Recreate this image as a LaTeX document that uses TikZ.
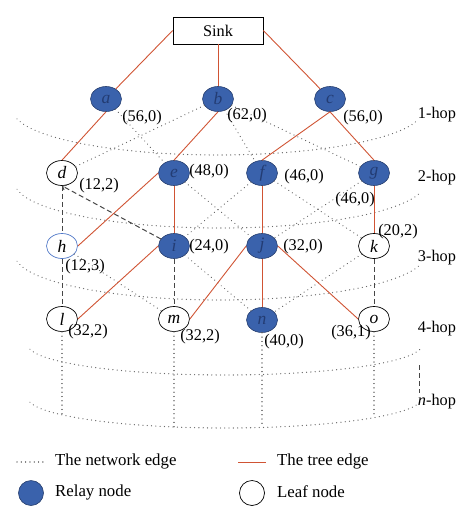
\documentclass[tikz,border=0pt]{standalone}
\usepackage{fontspec}
\setmainfont{Liberation Serif}
\usetikzlibrary{arrows.meta,shapes.geometric}
\definecolor{treecol}{RGB}{208,84,52}
\definecolor{relayfill}{RGB}{58,98,172}
\definecolor{relaydraw}{RGB}{38,62,110}
\definecolor{relaytext}{RGB}{35,60,115}
\definecolor{netcol}{RGB}{105,105,105}
\definecolor{dashcol}{RGB}{70,70,70}
\definecolor{hblue}{RGB}{80,120,200}
\begin{document}
\begin{tikzpicture}[x=1pt,y=-1pt,
  every node/.style={font=\fontsize{16.3}{19}\selectfont},
  relay/.style={ellipse, draw=relaydraw, fill=relayfill, minimum width=31pt, minimum height=25pt, inner sep=0pt, text=relaytext, font=\fontsize{17.5}{19}\selectfont\itshape, line width=0.6pt},
  leaf/.style={ellipse, draw=black, fill=white, minimum width=31pt, minimum height=25pt, inner sep=0pt, font=\fontsize{17.5}{19}\selectfont\itshape, line width=0.7pt},
  sinkbox/.style={rectangle, draw=black, fill=white, minimum width=90pt, minimum height=27pt, inner sep=0pt, line width=0.7pt},
  tree/.style={draw=treecol, line width=0.9pt},
  net/.style={draw=netcol, line width=1.3pt, dash pattern=on 0.01pt off 4.3pt, line cap=round},
  dashe/.style={draw=dashcol, line width=1pt, dash pattern=on 5pt off 3pt},
  lbl/.style={inner sep=0pt},
]
\useasboundingbox (0,0) rectangle (474,522);

% hop arcs
\draw[net] plot[domain=17:418,samples=80,smooth] (\x,{110+45*sqrt(max(0,1-((\x-218)/205)^2))});
\draw[net] plot[domain=17:420,samples=80,smooth] (\x,{183+45*sqrt(max(0,1-((\x-220)/205)^2))});
\draw[net] plot[domain=17:420,samples=80,smooth] (\x,{255+45*sqrt(max(0,1-((\x-220)/205)^2))});
\draw[net] plot[domain=30:420,samples=80,smooth] (\x,{345+30*sqrt(max(0,1-((\x-225)/197)^2))});
\draw[net] plot[domain=30:420,samples=80,smooth] (\x,{398+30*sqrt(max(0,1-((\x-225)/197)^2))});

% nodes
\node[sinkbox] (sink) at (218,30.5) {Sink};
\node[relay] (a) at (106,99) {a};
\node[relay] (b) at (218,99) {b};
\node[relay] (c) at (330,99) {c};
\node[leaf]  (d) at (62,173) {d};
\node[relay] (e) at (174,173) {e};
\node[relay] (f) at (262,173) {f};
\node[relay] (g) at (374,173) {g};
\node[leaf, draw=hblue] (h) at (62,246) {h};
\node[relay] (i) at (174,246) {i};
\node[relay] (j) at (262,246) {j};
\node[leaf]  (k) at (374,246) {k};
\node[leaf]  (l) at (62,319) {l};
\node[leaf]  (m) at (174,319) {m};
\node[relay] (n) at (262,320) {n};
\node[leaf]  (o) at (374,319) {o};

% network edges
\draw[net] (a) -- (e);
\draw[net] (b) -- (d);
\draw[net] (b) -- (f);
\draw[net] (b) -- (g);
\draw[net] (e) -- (j);
\draw[net] (f) -- (i);
\draw[net] (f) -- (k);
\draw[net] (g) -- (j);
\draw[net] (h) -- (m);
\draw[net] (i) -- (n);
\draw[net] (k) -- (n);
\coordinate (lend) at (62,415);
\coordinate (mend) at (174,427);
\coordinate (nend) at (262,427.5);
\coordinate (oend) at (374,417.5);
\draw[net] (l) -- (lend);
\draw[net] (m) -- (mend);
\draw[net] (n) -- (nend);
\draw[net] (o) -- (oend);

% tree edges
\draw[tree] (sink.west) -- (a);
\draw[tree] (sink.south) -- (b.north);
\draw[tree] (sink.east) -- (c);
\draw[tree] (a.south) -- (d.north);
\draw[tree] (b.south) -- (e.north);
\draw[tree] (c.south) -- (f.north);
\draw[tree] (c.south) -- (g.north);
\draw[tree] (e.west) -- (h.east);
\draw[tree] (e.south) -- (i.north);
\draw[tree] (f.south) -- (j.north);
\draw[tree] (g.south) -- (k.north);
\draw[tree] (i.west) -- (l.east);
\draw[tree] (j.west) -- (m.east);
\draw[tree] (j.south) -- (n.north);
\draw[tree] (j.east) -- (o.west);

% dashed edges
\draw[dashe] (d.south) -- (h.north);
\draw[dashe] (h.south) -- (l.north);
\draw[dashe] (i.south) -- (m.north);
\draw[dashe] (k.south) -- (o.north);
\draw[dashe, -{To[length=4pt,width=6pt]}] (i) -- (d.south);

% labels
\node[lbl] (la) at (142,118) {(56,0)};
\node[lbl] (lb) at (247,116) {(62,0)};
\node[lbl] (lc) at (363,118) {(56,0)};
\node[lbl] (ld) at (99,186) {(12,2)};
\node[lbl] (le) at (209,172) {(48,0)};
\node[lbl] (lf) at (304,177) {(46,0)};
\node[lbl] (lg) at (355,200) {(46,0)};
\node[lbl] (lh) at (85,267) {(12,3)};
\node[lbl] (li) at (209,247) {(24,0)};
\node[lbl] (lj) at (303,247) {(32,0)};
\node[lbl] (lk) at (398,232) {(20,2)};
\node[lbl] (ll) at (88,332) {(32,2)};
\node[lbl] (lm) at (200,337) {(32,2)};
\node[lbl] (ln) at (284,342) {(40,0)};
\node[lbl] (lo) at (351,333) {(36,1)};

% hop labels
\node[lbl] (h1) at (437,115) {1-hop};
\node[lbl] (h2) at (437,178) {2-hop};
\node[lbl] (h3) at (437,258) {3-hop};
\node[lbl] (h4) at (437,329) {4-hop};
\node[lbl] (hn) at (437,402) {\textit{n}-hop};
\coordinate (vm1) at (419,365);
\coordinate (vm2) at (419,393);
\draw[dashe] (vm1) -- (vm2);

% legend
\coordinate (lg1a) at (17,462);
\coordinate (lg1b) at (46,462);
\draw[net] (lg1a) -- (lg1b);
\node[lbl, anchor=west, font=\fontsize{16.8}{19}\selectfont] (lgt1) at (55,461) {The network edge};
\coordinate (lg2a) at (238,462);
\coordinate (lg2b) at (266,462);
\draw[tree] (lg2a) -- (lg2b);
\node[lbl, anchor=west, font=\fontsize{16.8}{19}\selectfont] (lgt2) at (277,461) {The tree edge};
\node[relay, minimum width=25pt, minimum height=25pt] (lgr) at (31,493) {};
\node[lbl, anchor=west, font=\fontsize{16.8}{19}\selectfont] (lgt3) at (55,492) {Relay node};
\node[leaf, minimum width=25pt, minimum height=25pt] (lgl) at (252,493) {};
\node[lbl, anchor=west, font=\fontsize{16.8}{19}\selectfont] (lgt4) at (277,492) {Leaf node};
\end{tikzpicture}
\end{document}
